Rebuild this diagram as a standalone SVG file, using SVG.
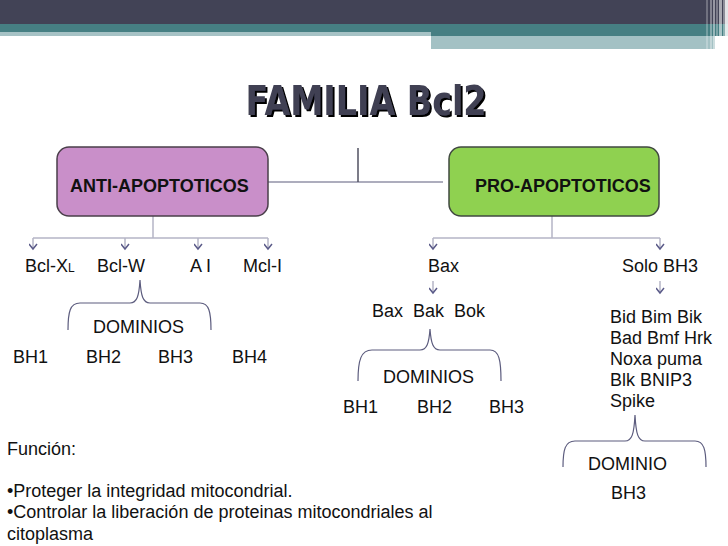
<svg xmlns="http://www.w3.org/2000/svg" width="728" height="546" viewBox="0 0 728 546">
<defs>
<style>
.t{font-family:"Liberation Sans",Arial,sans-serif;font-size:18px;fill:#111;}
.b{font-family:"Liberation Sans",Arial,sans-serif;font-size:18px;font-weight:bold;fill:#111;}
.gl{stroke:#adadbd;stroke-width:2;fill:none;}
.al{stroke:#b4b4c6;stroke-width:1.5;fill:none;}
.br{stroke:#5c5c7e;stroke-width:1.2;fill:none;}
</style>
<marker id="ah" markerWidth="10" markerHeight="8" refX="4" refY="6" orient="0" markerUnits="userSpaceOnUse" viewBox="0 0 10 8">
<path d="M0,1 L4,6 L8,1" fill="none" stroke="#5a5a88" stroke-width="1.5"/>
</marker>
<filter id="sh" x="-5%" y="-10%" width="115%" height="130%">
<feDropShadow dx="2" dy="2" stdDeviation="0" flood-color="#000000" flood-opacity="1"/>
</filter>
</defs>
<rect width="728" height="546" fill="#ffffff"/>
<g id="header">
<rect x="0" y="0" width="728" height="25" fill="#424356"/>
<rect x="0" y="24" width="728" height="12" fill="#467f83"/>
<rect x="0" y="32" width="431" height="4" fill="#a6c2c5"/>
<rect x="431" y="36" width="284" height="13" fill="#a3c1c4"/>
<rect x="706" y="0" width="2" height="49" fill="#ffffff" opacity="0.25"/>
<rect x="710" y="0" width="2" height="49" fill="#ffffff" opacity="0.35"/>
<rect x="713" y="0" width="2" height="49" fill="#ffffff" opacity="0.45"/>
<rect x="716" y="0" width="2" height="49" fill="#ffffff" opacity="0.3"/>
<rect x="719" y="0" width="3" height="49" fill="#ffffff" opacity="0.55"/>
<rect x="723" y="0" width="2" height="49" fill="#ffffff" opacity="0.4"/>
<rect x="725" y="0" width="3" height="49" fill="#ffffff" opacity="0.85"/>
</g>
<g id="title">
<text x="366" y="115" text-anchor="middle" font-family="DejaVu Sans,sans-serif" font-weight="bold" font-size="41" fill="#3f3f52" textLength="241" lengthAdjust="spacingAndGlyphs" filter="url(#sh)">FAMILIA Bcl2</text>
</g>
<g id="connectors">
<line class="gl" x1="268" y1="182" x2="443" y2="182"/>
<line x1="358" y1="148" x2="358" y2="182" stroke="#505060" stroke-width="1.5"/>
<line class="al" x1="153" y1="200" x2="153" y2="238" stroke="#6a6a80"/>
<line class="al" x1="33" y1="238" x2="268" y2="238"/>
<line class="al" x1="33" y1="238" x2="33" y2="249" marker-end="url(#ah)"/>
<line class="al" x1="125" y1="238" x2="125" y2="249" marker-end="url(#ah)"/>
<line class="al" x1="198" y1="238" x2="198" y2="249" marker-end="url(#ah)"/>
<line class="al" x1="268" y1="238" x2="268" y2="249" marker-end="url(#ah)"/>
<line class="al" x1="552" y1="200" x2="552" y2="238" stroke="#6a6a80"/>
<line class="al" x1="433" y1="238" x2="660" y2="238"/>
<line class="al" x1="433" y1="238" x2="433" y2="249" marker-end="url(#ah)"/>
<line class="al" x1="660" y1="238" x2="660" y2="249" marker-end="url(#ah)"/>
<line class="al" x1="433" y1="281" x2="433" y2="293" marker-end="url(#ah)"/>
<line class="al" x1="660" y1="281" x2="660" y2="293" marker-end="url(#ah)"/>
<path class="br" d="M68,330 C68,312 70,303 80,303 L130,303 C137,303 139,296 140,280 C141,296 143,303 150,303 L200,303 C209,303 211,312 211,330"/>
<path class="br" d="M358,381 C358,360 361,350 372,350 L420,350 C427,350 429,343 430,329 C431,343 433,350 440,350 L490,350 C499,350 501,360 501,381"/>
<path class="br" d="M563,467 C563,450 565,441 575,441 L625,441 C632,441 634,434 635,415 C636,434 638,441 645,441 L695,441 C704,441 706,450 706,467"/>
</g>
<g id="anti">
<rect x="57" y="147" width="211" height="69" rx="12" fill="#c98fc9" stroke="#4a3f4a" stroke-width="1.5"/>
<text class="b" x="70" y="192">ANTI-APOPTOTICOS</text>
</g>
<g id="pro">
<rect x="449" y="147" width="210" height="69" rx="12" fill="#8fd150" stroke="#404840" stroke-width="1.5"/>
<text class="b" x="475" y="192">PRO-APOPTOTICOS</text>
</g>
<g id="bclxl"><text class="t" x="25" y="272">Bcl-X<tspan font-size="12">L</tspan></text></g>
<g id="bclw"><text class="t" x="97" y="272">Bcl-W</text></g>
<g id="ai"><text class="t" x="190" y="272">A I</text></g>
<g id="mcl"><text class="t" x="243" y="272">Mcl-I</text></g>
<g id="dom1">
<text class="t" x="93" y="333">DOMINIOS</text>
<text class="t" x="13" y="363">BH1</text>
<text class="t" x="86" y="363">BH2</text>
<text class="t" x="158" y="363">BH3</text>
<text class="t" x="232" y="363">BH4</text>
</g>
<g id="bax"><text class="t" x="428" y="272">Bax</text></g>
<g id="bax2"><text class="t" x="372" y="317" xml:space="preserve">Bax  Bak  Bok</text></g>
<g id="dom2">
<text class="t" x="383" y="383">DOMINIOS</text>
<text class="t" x="343" y="413">BH1</text>
<text class="t" x="417" y="413">BH2</text>
<text class="t" x="489" y="413">BH3</text>
</g>
<g id="solo"><text class="t" x="622" y="272">Solo BH3</text></g>
<g id="sololist">
<text class="t" x="610" y="323">Bid Bim Bik</text>
<text class="t" x="610" y="344">Bad Bmf Hrk</text>
<text class="t" x="610" y="365">Noxa puma</text>
<text class="t" x="610" y="386">Blk BNIP3</text>
<text class="t" x="610" y="407">Spike</text>
</g>
<g id="dom3">
<text class="t" x="588" y="470">DOMINIO</text>
<text class="t" x="611" y="499">BH3</text>
</g>
<g id="funcion">
<text class="t" x="7" y="455">Función:</text>
<text class="t" x="7" y="497">•Proteger la integridad mitocondrial.</text>
<text class="t" x="7" y="518">•Controlar la liberación de proteinas mitocondriales al</text>
<text class="t" x="7" y="540">citoplasma</text>
</g>
</svg>
